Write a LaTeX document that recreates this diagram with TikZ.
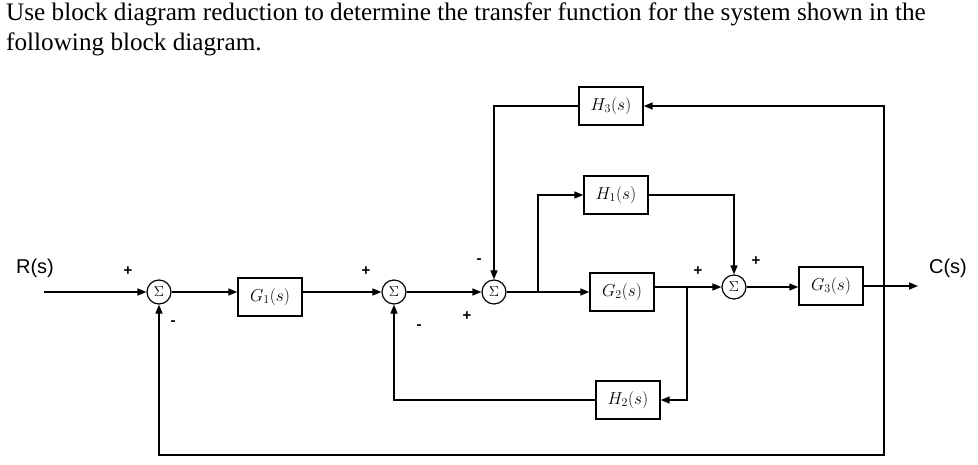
\documentclass[tikz,border=0pt]{standalone}
\usepackage{fontspec}
\setmainfont{Liberation Serif}
\setsansfont{Liberation Sans}
\usetikzlibrary{arrows.meta}
\begin{document}
\begin{tikzpicture}[x=1pt,y=-1pt,
  blk/.style={draw,line width=1.4pt,minimum width=64pt,minimum height=38pt,inner sep=1pt,font=\fontsize{18}{20}\selectfont},
  sumn/.style={draw,line width=1.2pt,circle,minimum size=24pt,inner sep=0pt,font=\fontsize{14}{16}\selectfont},
  sig/.style={font=\sffamily\bfseries\fontsize{15}{16}\selectfont},
  ln/.style={line width=1.6pt,-{Triangle[length=9pt,width=7pt]}}]
\useasboundingbox (0,0) rectangle (978,464);
\node[anchor=north west,align=left,font=\fontsize{25.2}{30}\selectfont,inner sep=0pt] (title) at (6,3)
 {Use block diagram reduction to determine the transfer function for the system shown in the\\following block diagram.};
\node[font=\sffamily\fontsize{20}{22}\selectfont] (R) at (35,268) {R(s)};
\node[font=\sffamily\fontsize{20}{22}\selectfont] (C) at (948,268) {C(s)};
\coordinate (in) at (44,292);
\node[sumn] (s1) at (159,292) {$\Sigma$};
\node[blk] (G1) at (270,297) {$G_1(s)$};
\node[sumn] (s2) at (394,292) {$\Sigma$};
\node[sumn] (s3) at (494,292) {$\Sigma$};
\node[blk] (G2) at (622,292) {$G_2(s)$};
\node[sumn] (s4) at (734,287) {$\Sigma$};
\node[blk] (G3) at (831,286) {$G_3(s)$};
\node[blk] (H3) at (611,106) {$H_3(s)$};
\node[blk] (H1) at (616,195) {$H_1(s)$};
\node[blk] (H2) at (628,400) {$H_2(s)$};
\coordinate (out) at (918,286);
\coordinate (b3) at (884,286);
\coordinate (b1) at (538,292);
\coordinate (b2) at (687,287);
\draw[ln] (in) -- (s1);
\draw[ln] (s1) -- (G1.west|-s1);
\draw[ln] (G1.east|-s2) -- (s2);
\draw[ln] (s2) -- (s3);
\draw[ln] (s3) -- (G2);
\draw[ln] (G2.east|-s4) -- (s4);
\draw[ln] (s4) -- (G3.west|-s4);
\draw[ln] (G3) -- (out);
\draw[ln] (b3) -- (b3|-H3) -- (H3);
\draw[ln] (H3) -| (s3);
\draw[ln] (b1) |- (H1);
\draw[ln] (H1) -| (s4);
\draw[ln] (b2) |- (H2);
\draw[ln] (H2) -| (s2);
\draw[ln] (b3) -- (884,455) -| (s1);
\node[sig] (p1) at (128,271) {+};
\node[sig] (m1) at (173,323) {-};
\node[sig] (p2) at (366,271) {+};
\node[sig] (m2) at (419,327) {-};
\node[sig] (m3) at (479,261) {-};
\node[sig] (p3) at (467,316) {+};
\node[sig] (p4) at (698,271) {+};
\node[sig] (p5) at (756,261) {+};
\end{tikzpicture}
\end{document}
